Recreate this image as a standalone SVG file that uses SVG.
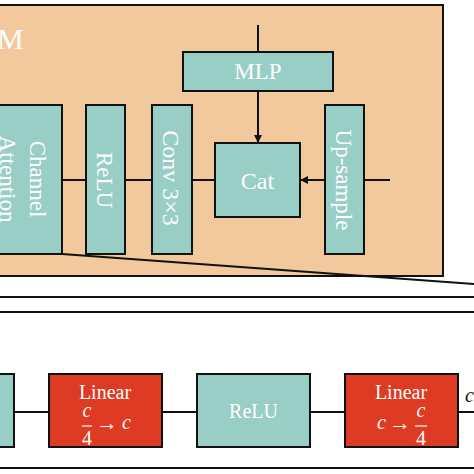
<svg xmlns="http://www.w3.org/2000/svg" width="474" height="474" viewBox="0 0 474 474">
<style>
.t{fill:#98CEC6;stroke:#111;stroke-width:2}
.r{fill:#DE3B24;stroke:#111;stroke-width:2}
.l{stroke:#111;stroke-width:2;fill:none}
.w{fill:#fff;font-family:"Liberation Serif","Times New Roman",serif}
.m{fill:#fff;font-family:"Liberation Serif","Times New Roman",serif;font-style:italic}
</style>
<defs>
<marker id="ah" markerWidth="8" markerHeight="8" refX="7" refY="4" orient="auto" markerUnits="userSpaceOnUse">
<path d="M0,0 L8,4 L0,8 Z" fill="#111"/>
</marker>
</defs>
<rect width="474" height="474" fill="#fff"/>
<g id="module">
<rect x="-5" y="5" width="448" height="271" fill="#F2C99C" stroke="#111" stroke-width="2"/>
<text x="-3" y="49" class="w" font-size="30">M</text>
</g>
<g id="connectors">
<line x1="258" y1="25" x2="258" y2="52" class="l"/>
<line x1="258" y1="91" x2="258" y2="142" class="l" marker-end="url(#ah)"/>
<line x1="62" y1="180" x2="86" y2="180" class="l"/>
<line x1="125" y1="180" x2="152" y2="180" class="l"/>
<line x1="192" y1="180" x2="215" y2="180" class="l"/>
<line x1="325" y1="180" x2="301" y2="180" class="l" marker-end="url(#ah)"/>
<line x1="364" y1="180" x2="390" y2="180" class="l"/>
<line x1="62" y1="254" x2="474" y2="284" class="l"/>
<line x1="0" y1="297" x2="474" y2="297" class="l"/>
<line x1="0" y1="312" x2="474" y2="312" class="l"/>
<line x1="0" y1="468" x2="474" y2="468" class="l"/>
<line x1="14" y1="412" x2="49" y2="412" class="l"/>
<line x1="162" y1="412" x2="197" y2="412" class="l"/>
<line x1="310" y1="412" x2="345" y2="412" class="l"/>
<line x1="458" y1="412" x2="474" y2="412" class="l"/>
</g>
<g id="mlp">
<rect x="183" y="52" width="150" height="39" class="t"/>
<text x="258" y="79" class="w" font-size="23" text-anchor="middle">MLP</text>
</g>
<g id="channel-attention">
<rect x="-10" y="105" width="72" height="149" class="t"/>
<text transform="translate(30,179) rotate(90)" class="w" font-size="23" text-anchor="middle">Channel</text>
<text transform="translate(0,179) rotate(90)" class="w" font-size="23" text-anchor="middle">Attention</text>
</g>
<g id="relu-top">
<rect x="86" y="105" width="39" height="149" class="t"/>
<text transform="translate(97,180) rotate(90)" class="w" font-size="23" text-anchor="middle">ReLU</text>
</g>
<g id="conv">
<rect x="152" y="105" width="40" height="149" class="t"/>
<text transform="translate(163,178) rotate(90)" class="w" font-size="24" text-anchor="middle">Conv 3×3</text>
</g>
<g id="cat">
<rect x="215" y="143" width="85" height="74" class="t"/>
<text x="257.5" y="189" class="w" font-size="24" text-anchor="middle">Cat</text>
</g>
<g id="upsample">
<rect x="325" y="105" width="39" height="149" class="t"/>
<text transform="translate(336,180) rotate(90)" class="w" font-size="23" text-anchor="middle">Up-sample</text>
</g>
<g id="left-box">
<rect x="-10" y="374" width="24" height="73" class="t"/>
</g>
<g id="linear1">
<rect x="49" y="374" width="113" height="73" class="r"/>
<text x="105" y="399" class="w" font-size="20" text-anchor="middle">Linear</text>
<text x="87" y="417" class="m" font-size="20" text-anchor="middle">c</text>
<line x1="82" y1="426" x2="92" y2="426" stroke="#fff" stroke-width="1.2"/>
<text x="87" y="445" class="w" font-size="20" text-anchor="middle">4</text>
<text x="96" y="430" class="w" font-size="22">→</text>
<text x="122" y="429" class="m" font-size="20">c</text>
</g>
<g id="relu-bottom">
<rect x="197" y="374" width="113" height="73" class="t"/>
<text x="253.5" y="418" class="w" font-size="20" text-anchor="middle">ReLU</text>
</g>
<g id="linear2">
<rect x="345" y="374" width="113" height="73" class="r"/>
<text x="401" y="399" class="w" font-size="20" text-anchor="middle">Linear</text>
<text x="377" y="429" class="m" font-size="20">c</text>
<text x="389" y="430" class="w" font-size="22">→</text>
<text x="421" y="417" class="m" font-size="20" text-anchor="middle">c</text>
<line x1="415" y1="426" x2="427" y2="426" stroke="#fff" stroke-width="1.2"/>
<text x="421" y="445" class="w" font-size="20" text-anchor="middle">4</text>
</g>
<text x="465" y="402" font-family="Liberation Serif,serif" font-style="italic" font-size="20" fill="#111">c</text>
</svg>
